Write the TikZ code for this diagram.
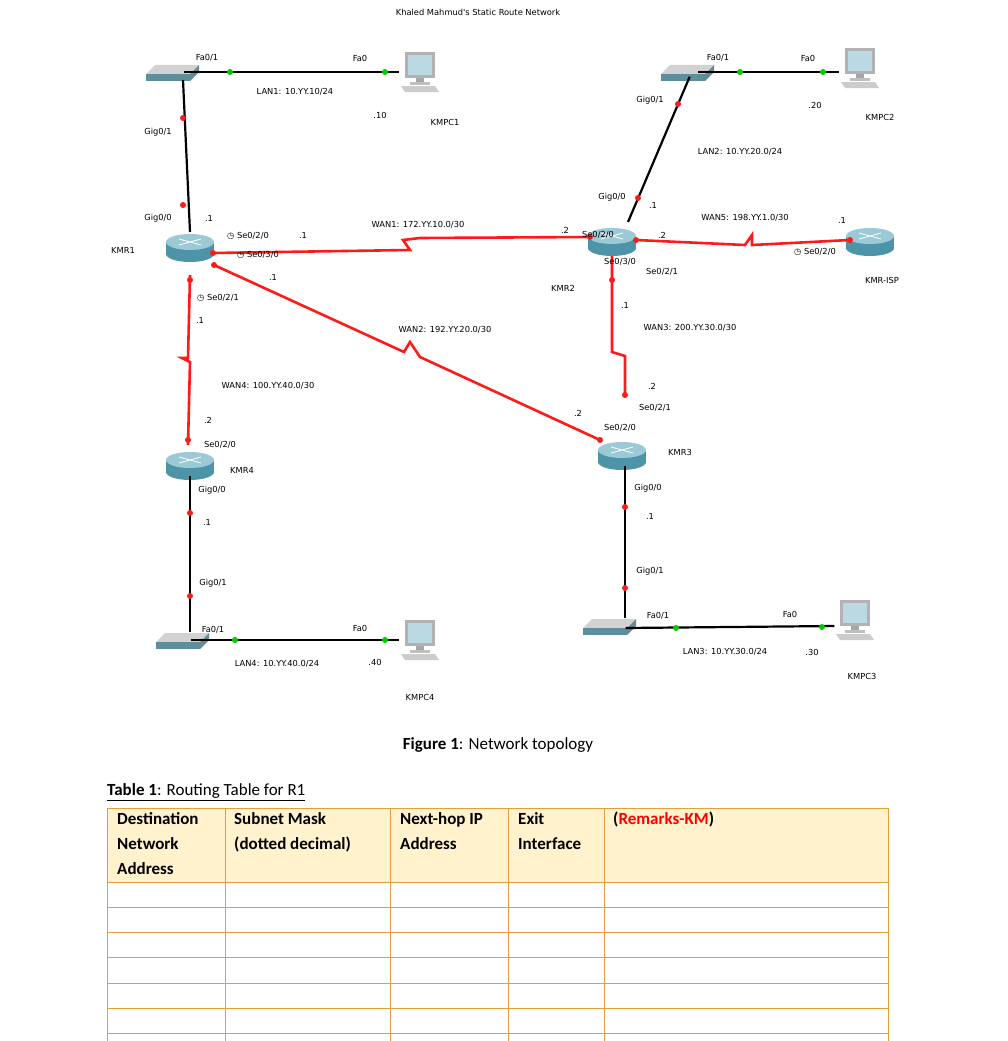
\documentclass[tikz,border=0pt]{standalone}
\usepackage{fontspec}
\setmainfont{Carlito}
\newfontfamily\pt{DejaVu Sans}
\definecolor{rtop}{HTML}{9CC9D6}
\definecolor{rside}{HTML}{4E94A8}
\definecolor{tbord}{HTML}{E0A040}
\definecolor{thead}{HTML}{FFF2CC}
\definecolor{lnk}{HTML}{FF1A1A}
\tikzset{
 lbl/.style={font=\pt\fontsize{8.3}{9}\selectfont, inner sep=1pt},
 wan/.style={draw=lnk, line width=2.6pt, line join=miter},
 lan/.style={draw=black, line width=2.2pt},
 rdot/.style={circle, fill=lnk, inner sep=0pt, minimum size=6pt},
 gdot/.style={circle, fill=green!80!black, inner sep=0pt, minimum size=6pt},
 anchorpt/.style={inner sep=0pt, minimum size=1pt},
 router/.pic={
  \fill[rside] (-24,0) rectangle (24,12);
  \fill[rside] (0,12) ellipse (24pt and 8pt);
  \fill[rtop] (0,0) ellipse (24pt and 8pt);
  \draw[white, line width=0.8pt] (-11,-3) -- (11,3) (-11,3) -- (11,-3);
 },
 switchic/.pic={
  \fill[gray!35] (-20,-7) -- (24,-7) -- (15,2) -- (-29,2) -- cycle;
  \fill[rside!70!gray] (-29,2) rectangle (15,9);
  \fill[rside!50!gray] (15,2) -- (24,-7) -- (24,0) -- (15,9) -- cycle;
 },
 pcic/.pic={
  \fill[gray!60] (-15,-20) rectangle (15,6);
  \fill[rtop!70!white] (-12,-17) rectangle (12,3);
  \fill[gray!70] (-4,6) rectangle (4,10);
  \fill[gray!50] (-10,10) rectangle (10,13);
  \fill[gray!40] (-19,14) -- (15,14) -- (19,20) -- (-15,20) -- cycle;
 },
 ttext/.style={font=\fontsize{17}{25}\selectfont, anchor=north west, align=left, inner sep=0pt},
}
\begin{document}
\begin{tikzpicture}[x=1pt,y=-1pt]
\useasboundingbox (0,0) rectangle (1008,1041);
\fill[white] (0,0) rectangle (1008,1041);
\node[lbl] (title) at (478,12) {Khaled Mahmud's Static Route Network};

% devices
\pic at (175,72) {switchic}; \node[anchorpt] (sw1) at (183,72) {};
\pic at (420,72) {pcic}; \node[anchorpt] (pc1) at (400,72) {};
\pic at (190,242) {router}; \node[anchorpt] (r1) at (190,245) {};
\pic at (690,72) {switchic}; \node[anchorpt] (sw2) at (690,76) {};
\pic at (860,68) {pcic}; \node[anchorpt] (pc2) at (840,72) {};
\pic at (612,236) {router}; \node[anchorpt] (r2) at (612,240) {};
\pic at (870,236) {router}; \node[anchorpt] (isp) at (850,240) {};
\pic at (622,450) {router}; \node[anchorpt] (r3) at (622,452) {};
\pic at (190,460) {router}; \node[anchorpt] (r4) at (190,462) {};
\pic at (185,640) {switchic}; \node[anchorpt] (sw4) at (190,640) {};
\pic at (420,640) {pcic}; \node[anchorpt] (pc4) at (400,640) {};
\pic at (612,626) {switchic}; \node[anchorpt] (sw3) at (625,628) {};
\pic at (855,620) {pcic}; \node[anchorpt] (pc3) at (835,626) {};

% LAN links
\draw[lan] (sw1) -- (pc1);
\node[gdot] at (230,72) {}; \node[gdot] at (385,72) {};
\draw[lan] (183,80) -- (r1 |- 0,232);
\node[rdot] at (183,118) {}; \node[rdot] at (183,205) {};
\draw[lan] (sw2) -- (628,222);
\node[rdot] at (678,104) {}; \node[rdot] at (638,198) {};
\draw[lan] (698,72) -- (pc2);
\node[gdot] at (740,72) {}; \node[gdot] at (823,72) {};
\draw[lan] (625,466) -- (625,618);
\node[rdot] at (625,507) {}; \node[rdot] at (625,588) {};
\draw[lan] (sw3) -- (pc3);
\node[gdot] at (676,628) {}; \node[gdot] at (822,627) {};
\draw[lan] (190,476) -- (190,632);
\node[rdot] at (190,513) {}; \node[rdot] at (190,596) {};
\draw[lan] (sw4) -- (pc4);
\node[gdot] at (235,640) {}; \node[gdot] at (385,640) {};

% WAN links
\draw[wan] (213,253) -- (410,250) -- (403,240) -- (420,238) -- (590,237);
\draw[wan] (214,265) -- (404,352) -- (410,342) -- (420,357) -- (600,440);
\draw[wan] (190,275) -- (188,358) -- (182,358) -- (190,362) -- (188,445);
\draw[wan] (612,256) -- (612,352) -- (625,356) -- (625,395);
\draw[wan] (636,240) -- (745,245) -- (752,235) -- (752,245) -- (850,240);
\foreach \p in {(213,253),(590,237),(214,265),(600,440),(190,280),(188,440),(612,280),(625,395),(636,240),(850,240)}
  \node[rdot] at \p {};

% labels
\node[lbl] at (207,58) {Fa0/1};
\node[lbl] at (360,58) {Fa0};
\node[lbl] at (295,92) {LAN1: 10.YY.10/24};
\node[lbl] at (380,115) {.10};
\node[lbl] at (445,122) {KMPC1};
\node[lbl] at (158,132) {Gig0/1};
\node[lbl] at (158,218) {Gig0/0};
\node[lbl] at (209,218) {.1};
\node[lbl] at (123,250) {KMR1};
\node[lbl] at (248,236) {\char"25F7\ Se0/2/0};
\node[lbl] at (303,235) {.1};
\node[lbl] at (258,255) {\char"25F7\ Se0/3/0};
\node[lbl] at (273,277) {.1};
\node[lbl] at (218,298) {\char"25F7\ Se0/2/1};
\node[lbl] at (200,320) {.1};
\node[lbl] at (418,225) {WAN1: 172.YY.10.0/30};
\node[lbl] at (445,330) {WAN2: 192.YY.20.0/30};
\node[lbl] at (268,386) {WAN4: 100.YY.40.0/30};
\node[lbl] at (208,420) {.2};
\node[lbl] at (220,445) {Se0/2/0};
\node[lbl] at (242,470) {KMR4};
\node[lbl] at (212,490) {Gig0/0};
\node[lbl] at (207,522) {.1};
\node[lbl] at (213,583) {Gig0/1};
\node[lbl] at (213,630) {Fa0/1};
\node[lbl] at (360,628) {Fa0};
\node[lbl] at (277,664) {LAN4: 10.YY.40.0/24};
\node[lbl] at (375,662) {.40};
\node[lbl] at (420,697) {KMPC4};
\node[lbl] at (718,58) {Fa0/1};
\node[lbl] at (808,58) {Fa0};
\node[lbl] at (650,100) {Gig0/1};
\node[lbl] at (815,105) {.20};
\node[lbl] at (880,117) {KMPC2};
\node[lbl] at (740,152) {LAN2: 10.YY.20.0/24};
\node[lbl] at (612,197) {Gig0/0};
\node[lbl] at (653,205) {.1};
\node[lbl] at (565,230) {.2};
\node[lbl] at (598,235) {Se0/2/0};
\node[lbl] at (662,235) {.2};
\node[lbl] at (745,218) {WAN5: 198.YY.1.0/30};
\node[lbl] at (842,220) {.1};
\node[lbl] at (815,252) {\char"25F7\ Se0/2/0};
\node[lbl] at (882,280) {KMR-ISP};
\node[lbl] at (620,262) {Se0/3/0};
\node[lbl] at (662,272) {Se0/2/1};
\node[lbl] at (563,288) {KMR2};
\node[lbl] at (625,305) {.1};
\node[lbl] at (690,328) {WAN3: 200.YY.30.0/30};
\node[lbl] at (652,386) {.2};
\node[lbl] at (655,408) {Se0/2/1};
\node[lbl] at (578,413) {.2};
\node[lbl] at (620,428) {Se0/2/0};
\node[lbl] at (680,452) {KMR3};
\node[lbl] at (648,488) {Gig0/0};
\node[lbl] at (650,516) {.1};
\node[lbl] at (650,571) {Gig0/1};
\node[lbl] at (658,616) {Fa0/1};
\node[lbl] at (790,614) {Fa0};
\node[lbl] at (725,652) {LAN3: 10.YY.30.0/24};
\node[lbl] at (812,652) {.30};
\node[lbl] at (862,676) {KMPC3};

\node[font=\fontsize{17}{20}\selectfont] (cap) at (498,745) {\textbf{Figure 1}: Network topology};
\node[font=\fontsize{17}{20}\selectfont, anchor=west, inner sep=0pt] (tt) at (107,792) {\underline{\textbf{Table 1}: Routing Table for R1}};

% table
\fill[thead] (107,808) rectangle (888,882);
\foreach \y in {808,882,907,932,957,983,1008,1033}
  \draw[tbord, line width=0.9pt] (107,\y) -- (888,\y);
\foreach \x in {107,225,390,508,604,888}
  \draw[tbord, line width=0.9pt] (\x,808) -- (\x,1041);
\node[ttext] at (117,812) {\textbf{Destination}\\\textbf{Network}\\\textbf{Address}};
\node[ttext] at (234,812) {\textbf{Subnet Mask}\\\textbf{(dotted decimal)}};
\node[ttext] at (400,812) {\textbf{Next-hop IP}\\\textbf{Address}};
\node[ttext] at (518,812) {\textbf{Exit}\\\textbf{Interface}};
\node[ttext] at (613,812) {\textbf{(\textcolor{red}{Remarks-KM})}};
\end{tikzpicture}
\end{document}
